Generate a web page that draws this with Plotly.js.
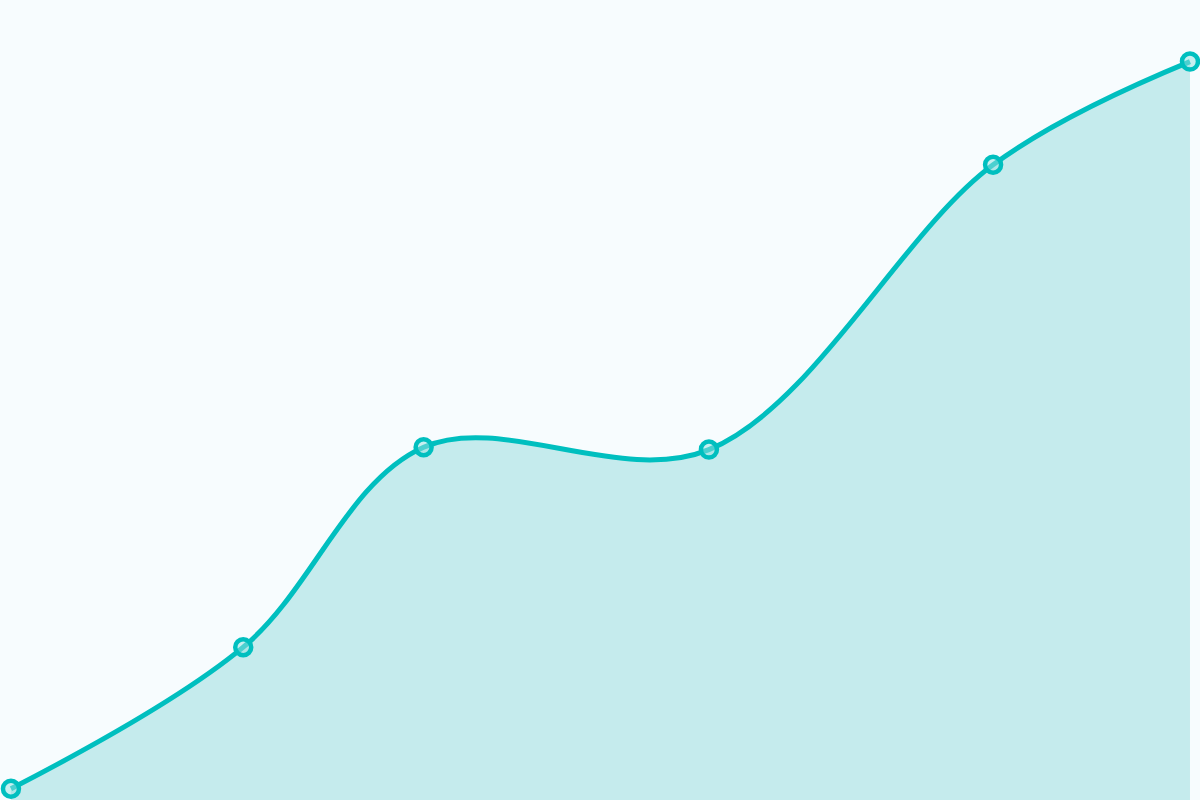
<!DOCTYPE html>
<html>
<head>
<meta charset="utf-8">
<script src="https://cdn.plot.ly/plotly-3.0.1.min.js"></script>
<style>
  html, body { margin: 0; padding: 0; background: #f7fcfe; }
  #chart { width: 1200px; height: 800px; }
</style>
</head>
<body>
<div id="chart"></div>
<script>
let xValues = [0, 19.7, 35.0, 59.2, 83.3, 100];
let yValues = [1.4, 19.1, 44.1, 43.8, 79.4, 92.3];

let trace = {
    type: "scatter",
    mode: "lines+markers",
    x: xValues,
    y: yValues,
    fill: "tozeroy",
    fillcolor: "rgba(0, 170, 170, 0.2)",
    line: { color: "#00bfbf", width: 5, shape: "spline", smoothing: 1 },
    marker: {
        symbol: "circle",
        size: 16,
        color: "rgba(150, 225, 225, 0.5)",
        line: { color: "#00bfbf", width: 4.5 }
    },
    hoverinfo: "x+y"
};

let layout = {
    width: 1200,
    height: 800,
    margin: { l: 0, r: 0, t: 0, b: 0 },
    paper_bgcolor: "#f7fcfe",
    plot_bgcolor: "#f7fcfe",
    showlegend: false,
    xaxis: { range: [-0.93, 100.85], visible: false, showgrid: false, zeroline: false },
    yaxis: { range: [0, 100], visible: false, showgrid: false, zeroline: false }
};

Plotly.newPlot("chart", [trace], layout, { displayModeBar: false });
</script>
</body>
</html>
